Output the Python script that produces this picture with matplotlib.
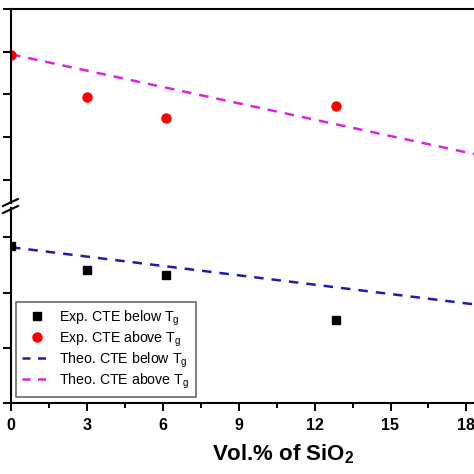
import matplotlib
matplotlib.use("Agg")
import matplotlib.pyplot as plt
from matplotlib.ticker import MultipleLocator
from matplotlib.lines import Line2D

plt.rcParams['font.family'] = ['Liberation Sans', 'DejaVu Sans']
plt.rcParams['mathtext.fontset'] = 'custom'
plt.rcParams['mathtext.rm'] = 'Liberation Sans'
plt.rcParams['mathtext.bf'] = 'Liberation Sans:bold'
plt.rcParams['mathtext.it'] = 'Liberation Sans:italic'

# ---- data ----
vol_sio2 = [0, 3, 6.13, 12.85]
exp_below = [68.4, 64.0, 63.1, 55.0]
exp_above = [189.3, 179.5, 174.4, 177.3]
theo_x = [0, 20]
theo_below = [68.2, 56.9]
theo_above = [189.4, 163.9]
x_ticks = [0, 3, 6, 9, 12, 15, 18]

W = H = 474
fig = plt.figure(figsize=(4.74, 4.74), dpi=100)

def px_axes(left, top, right, bottom):
    return fig.add_axes([left / W, 1 - bottom / H, (right - left) / W, (bottom - top) / H])

xpx = 25.3
xmax = 19.5
right_px = 11 + xmax * xpx

ax_top = px_axes(11, 9, right_px, 203)
ax_bot = px_axes(11, 208, right_px, 403)

magenta = '#dd22dd'
blue = '#1c1cb0'

ax_top.plot(theo_x, theo_above, color=magenta, lw=1.8, dashes=(3.8, 3.2))
ax_top.plot(vol_sio2, exp_above, 'o', color='#ff0000', ms=6.5, mec='#ff0000')
ax_bot.plot(theo_x, theo_below, color=blue, lw=1.8, dashes=(3.8, 3.2))
ax_bot.plot(vol_sio2, exp_below, 's', color='black', ms=5.8)

ax_top.set_ylim(154.6, 200)
ax_bot.set_ylim(40, 75.3)
for ax in (ax_top, ax_bot):
    ax.set_xlim(0, xmax)
    ax.spines['right'].set_visible(False)
    for s in ax.spines.values():
        s.set_linewidth(1.5)
    ax.yaxis.set_major_locator(MultipleLocator(10))
    ax.tick_params(axis='y', which='major', direction='out', length=6, width=1.4,
                   labelleft=False)
    ax.xaxis.set_major_locator(MultipleLocator(3))
    ax.xaxis.set_minor_locator(MultipleLocator(1.5))

ax_top.spines['bottom'].set_visible(False)
ax_top.tick_params(axis='x', which='both', bottom=False, labelbottom=False)
ax_bot.spines['top'].set_visible(False)
ax_bot.tick_params(axis='x', which='major', direction='out', length=6, width=1.4, pad=4.5)
ax_bot.tick_params(axis='x', which='minor', direction='out', length=3.5, width=1.4)
ax_bot.set_xticks(x_ticks)
ax_bot.set_xticklabels([str(t) for t in x_ticks], fontsize=11.5, fontweight='bold')

# break marks
for y0 in (206, 213):
    fig.add_artist(Line2D([3 / W, 18 / W], [1 - y0 / H, 1 - (y0 - 7) / H],
                          color='black', lw=1.5, transform=fig.transFigure))

fig.text(283 / W, 1 - 460 / H, r"Vol.% of SiO$_\mathbf{2}$", fontsize=16,
         fontweight='bold', ha='center', va='baseline')

handles = [
    Line2D([], [], ls='none', marker='s', color='black', ms=5.8),
    Line2D([], [], ls='none', marker='o', color='#ff0000', ms=6.5),
    Line2D([], [], color=blue, lw=1.8, dashes=(3.2, 3)),
    Line2D([], [], color=magenta, lw=1.8, dashes=(3.2, 3)),
]
labels = [r"Exp. CTE below T$_\mathrm{g}$", r"Exp. CTE above T$_\mathrm{g}$",
          r"Theo. CTE below T$_\mathrm{g}$", r"Theo. CTE above T$_\mathrm{g}$"]
leg = ax_bot.legend(handles, labels, loc='lower left',
                    bbox_to_anchor=(16 / W, 1 - 397 / H), bbox_transform=fig.transFigure,
                    borderaxespad=0, fontsize=10.2, frameon=True, fancybox=False,
                    handlelength=2.1, handletextpad=0.5, labelspacing=0.12,
                    borderpad=0.45, numpoints=1)
leg.get_frame().set_edgecolor('#444444')
leg.get_frame().set_linewidth(1.2)

fig.savefig('out.png', dpi=100)
